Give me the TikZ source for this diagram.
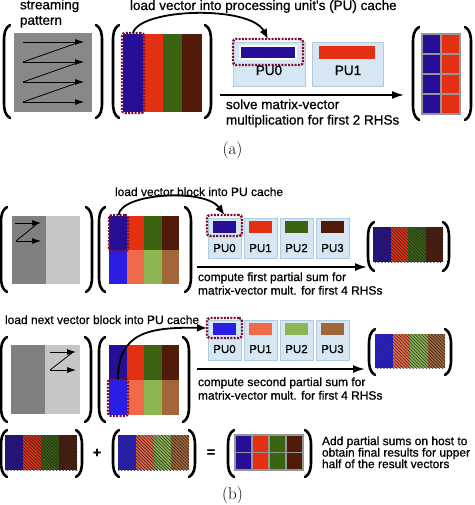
\documentclass[tikz,border=0pt]{standalone}
\usepackage{fontspec}
\newfontfamily\arialf[FakeBold=0.7]{Liberation Sans}
\usetikzlibrary{arrows.meta,patterns.meta}
\definecolor{cnavy}{RGB}{38,14,150}
\definecolor{cred}{RGB}{228,48,18}
\definecolor{cgrn}{RGB}{58,100,18}
\definecolor{cbrn}{RGB}{82,26,8}
\definecolor{cbblue}{RGB}{42,30,228}
\definecolor{csalm}{RGB}{240,105,72}
\definecolor{clgrn}{RGB}{140,182,82}
\definecolor{clbrn}{RGB}{162,102,56}
\definecolor{cgreyA}{RGB}{136,136,136}
\definecolor{cgreyD}{RGB}{128,128,128}
\definecolor{cgreyL}{RGB}{198,198,198}
\definecolor{cpufill}{RGB}{214,231,243}
\definecolor{cpuline}{RGB}{178,203,222}
\definecolor{chl}{RGB}{122,16,48}
\definecolor{cgrid}{RGB}{150,150,150}
\tikzset{
  hl/.style={draw=chl, line width=2.4pt, dash pattern=on 2pt off 1.3pt, rounded corners=3pt},
  pubox/.style={fill=cpufill, draw=cpuline, line width=0.8pt},
  brk/.style={line width=2.6pt, line cap=round},
  conn/.style={line width=1.8pt, -{Latex[length=10pt,width=8pt]}},
  bigarrow/.style={line width=1.8pt, -{Latex[length=12pt,width=8pt]}},
  zig/.style={line width=0.8pt, -{Latex[length=9pt,width=6pt]}},
  zigl/.style={line width=0.8pt},
  hatch/.style={pattern={Lines[angle=-45,distance=2.3pt,line width=0.6pt]}, pattern color=black!85},
  gridl/.style={draw=cgrid, line width=1.2pt},
  ta/.style={font=\arialf\fontsize{13.5}{15.5}\selectfont, inner sep=0pt, outer sep=0pt},
  tb/.style={font=\arialf\fontsize{12}{13.5}\selectfont, inner sep=0pt, outer sep=0pt},
  tc/.style={font=\arialf\fontsize{12}{11.5}\selectfont, inner sep=0pt, outer sep=0pt},
  tpu/.style={font=\arialf\fontsize{11.5}{12}\selectfont, inner sep=0pt, outer sep=0pt},
  captext/.style={font=\fontsize{17}{17}\selectfont, inner sep=0pt}
}
\newcommand\mybox[6]{\node[inner sep=0pt, outer sep=0pt, minimum width={(#4)-(#2)}, minimum height={(#5)-(#3)}, #6] (#1) at ({((#2)+(#4))/2},{((#3)+(#5))/2}) {};}
\newcommand\lbrk[3]{\draw[brk] ({#1+6},#2) .. controls ({#1+1},{#2+3}) and (#1,{#2+8}) .. (#1,{#2+16}) -- (#1,{#3-16}) .. controls (#1,{#3-8}) and ({#1+1},{#3-3}) .. ({#1+6},#3);}
\newcommand\rbrk[3]{\draw[brk] ({#1-6},#2) .. controls ({#1-1},{#2+3}) and (#1,{#2+8}) .. (#1,{#2+16}) -- (#1,{#3-16}) .. controls (#1,{#3-8}) and ({#1-1},{#3-3}) .. ({#1-6},#3);}
\newcommand\fourcols[8]{%
  \pgfmathsetmacro\mycw{((#3)-(#1))/4}%
  \fill[#5] (#1,#2) rectangle ({#1+\mycw},#4);
  \fill[#6] ({#1+\mycw},#2) rectangle ({#1+2*\mycw},#4);
  \fill[#7] ({#1+2*\mycw},#2) rectangle ({#1+3*\mycw},#4);
  \fill[#8] ({#1+3*\mycw},#2) rectangle (#3,#4);}
\begin{document}
\begin{tikzpicture}[x=1pt,y=-1pt]
\useasboundingbox (0,0) rectangle (474,505);
\fill[white] (0,0) rectangle (474,505);

%% ---------------- (a) ----------------
\node[ta, anchor=north west, align=left] (tStream) at (20,-0.5) {streaming\\pattern};
\node[ta, anchor=base west] (tLoadA) at (130,10) {load vector into processing unit's (PU) cache};

\lbrk{4}{25}{118}
\rbrk{102}{25}{118}
\fill[cgreyA] (14,33) rectangle (92,112);
\foreach \yy in {42,62,82,102} {\draw[zig] (23,\yy) -- (84,\yy);}
\foreach \yy in {42,62,82} {\draw[zigl] (77,{\yy+1}) -- (23,{\yy+20});}

\lbrk{113}{25}{118}
\rbrk{211}{25}{118}
\fourcols{123}{34}{202}{112}{cnavy}{cred}{cgrn}{cbrn}
\mybox{hlA}{122}{33}{144}{113}{hl}

\mybox{puA0}{233}{42}{305}{86}{pubox}
\mybox{puA1}{312}{42}{383}{86}{pubox}
\mybox{barA0}{240}{46}{296}{59}{fill=cnavy, draw=white, line width=1.2pt}
\mybox{barA1}{319}{46}{375}{59}{fill=cred}
\mybox{hlPA}{233}{39}{303}{65}{hl}
\node[ta, anchor=base] (lA0) at (269,75) {PU0};
\node[ta, anchor=base] (lA1) at (348,75) {PU1};

\draw[conn] (hlA.north) .. controls (140,8) and (250,5) .. (hlPA.north);

\coordinate (aS) at (220,95);
\coordinate (aE) at (404,95);
\draw[bigarrow] (aS) -- (aE);
\node[ta, anchor=north west, align=left] (tSolve) at (226,99.3) {solve matrix-vector\\multiplication for first 2 RHSs};

\lbrk{413}{27}{120}
\rbrk{471}{27}{120}
\fill[cnavy] (422,34) rectangle (441,114);
\fill[cred] (441,34) rectangle (460,114);
\draw[gridl] (422,34) rectangle (460,114);
\draw[gridl] (441,34) -- (441,114);
\foreach \yy in {54,74,94} {\draw[gridl] (422,\yy) -- (460,\yy);}

\node[captext] (capA) at (232.5,150) {(a)};

%% ---------------- (b) row 1 ----------------
\node[tb, anchor=base west] (tLoadB1) at (115,196) {load vector block into PU cache};
\lbrk{1}{207}{292}
\rbrk{92}{207}{292}
\fill[cgreyD] (12,216) rectangle (46,284);
\fill[cgreyL] (46,216) rectangle (80,284);
\draw[zig] (15,223) -- (41,223);
\draw[zigl] (37,224) -- (16,241);
\draw[zig] (16,241) -- (41,241);

\lbrk{99}{207}{292}
\rbrk{191}{207}{292}
\fourcols{109}{216}{179}{250}{cnavy}{cred}{cgrn}{cbrn}
\fourcols{109}{250}{179}{284}{cbblue}{csalm}{clgrn}{clbrn}
\mybox{hlB1}{109}{215}{128}{251}{hl}

\mybox{puB10}{208}{218}{241}{258}{pubox}
\mybox{puB11}{244}{218}{277}{258}{pubox}
\mybox{puB12}{280}{218}{313}{258}{pubox}
\mybox{puB13}{316}{218}{349}{258}{pubox}
\mybox{barB10}{213}{221}{236}{233}{fill=cnavy}
\mybox{barB11}{249}{221}{272}{233}{fill=cred}
\mybox{barB12}{285}{221}{308}{233}{fill=cgrn}
\mybox{barB13}{321}{221}{344}{233}{fill=cbrn}
\mybox{hlPB1}{207}{215}{242}{236}{hl}
\node[tpu, anchor=base] (lB10) at (224.5,252) {PU0};
\node[tpu, anchor=base] (lB11) at (260.5,252) {PU1};
\node[tpu, anchor=base] (lB12) at (296.5,252) {PU2};
\node[tpu, anchor=base] (lB13) at (332.5,252) {PU3};

\draw[conn] (hlB1.north) .. controls (121,193) and (205,188) .. (hlPB1.north);

\coordinate (b1S) at (197,267);
\coordinate (b1E) at (367,267);
\draw[bigarrow] (b1S) -- (b1E);
\node[tb, anchor=north west, align=left] (tComp1) at (198,272.4) {compute first partial sum for\\matrix-vector mult. for first 4 RHSs};

\lbrk{368}{222}{271}
\rbrk{449}{222}{271}
\fourcols{373}{227}{443}{262}{cnavy}{cred}{cgrn}{cbrn}
\path[hatch] (373,227) rectangle (443,262);

%% ---------------- (b) row 2 ----------------
\node[tb, anchor=base west] (tLoadB2) at (5,324) {load next vector block into PU cache};
\lbrk{1}{337}{422}
\rbrk{91}{337}{422}
\fill[cgreyD] (11,345) rectangle (45,414);
\fill[cgreyL] (45,345) rectangle (80,414);
\draw[zig] (50,352) -- (76,352);
\draw[zigl] (72,353) -- (50,370);
\draw[zig] (50,370) -- (76,370);

\lbrk{99}{337}{422}
\rbrk{189}{337}{422}
\fourcols{109}{345}{179}{380}{cnavy}{cred}{cgrn}{cbrn}
\fourcols{109}{380}{179}{415}{cbblue}{csalm}{clgrn}{clbrn}
\mybox{hlB2}{108}{379}{128}{416}{hl}

\mybox{puB20}{208}{320}{241}{360}{pubox}
\mybox{puB21}{244}{320}{277}{360}{pubox}
\mybox{puB22}{280}{320}{313}{360}{pubox}
\mybox{puB23}{316}{320}{349}{360}{pubox}
\mybox{barB20}{213}{323}{236}{335}{fill=cbblue}
\mybox{barB21}{249}{323}{272}{335}{fill=csalm}
\mybox{barB22}{285}{323}{308}{335}{fill=clgrn}
\mybox{barB23}{321}{323}{344}{335}{fill=clbrn}
\mybox{hlPB2}{207}{318}{242}{338}{hl}
\node[tpu, anchor=base] (lB20) at (224.5,353) {PU0};
\node[tpu, anchor=base] (lB21) at (260.5,353) {PU1};
\node[tpu, anchor=base] (lB22) at (296.5,353) {PU2};
\node[tpu, anchor=base] (lB23) at (332.5,353) {PU3};

\draw[conn] (hlB2.north) .. controls (118,332) and (150,327) .. (hlPB2.west);

\coordinate (b2S) at (197,369);
\coordinate (b2E) at (365,369);
\draw[bigarrow] (b2S) -- (b2E);
\node[tb, anchor=north west, align=left] (tComp2) at (198,377.4) {compute second partial sum for\\matrix-vector mult. for first 4 RHSs};

\lbrk{369}{329}{375}
\rbrk{451}{329}{375}
\fourcols{375}{334}{445}{368}{cbblue}{csalm}{clgrn}{clbrn}
\path[hatch] (375,334) rectangle (445,368);

%% ---------------- (b) row 3 ----------------
\lbrk{1}{430}{477}
\rbrk{82}{430}{477}
\fourcols{5}{435}{77}{470}{cnavy}{cred}{cgrn}{cbrn}
\path[hatch] (5,435) rectangle (77,470);
\node[font=\arialf\bfseries\fontsize{14}{14}\selectfont, inner sep=0pt] (plus) at (97,453) {+};

\lbrk{113}{430}{477}
\rbrk{195}{430}{477}
\fourcols{118}{435}{189}{470}{cbblue}{csalm}{clgrn}{clbrn}
\path[hatch] (118,435) rectangle (189,470);
\node[font=\arialf\bfseries\fontsize{14}{14}\selectfont, inner sep=0pt] (eq) at (211,453) {=};

\lbrk{228}{430}{477}
\rbrk{311}{430}{477}
\fourcols{235}{435}{303}{452.5}{cnavy}{cred}{cgrn}{cbrn}
\fourcols{235}{452.5}{303}{470}{cnavy}{cred}{cgrn}{cbrn}
\draw[gridl] (235,435) rectangle (303,470);
\draw[gridl] (235,452.5) -- (303,452.5);
\foreach \xx in {252,269,286} {\draw[gridl] (\xx,435) -- (\xx,470);}

\node[tc, anchor=north west, align=left] (tAdd) at (322,436.4) {Add partial sums on host to\\obtain final results for upper\\half of the result vectors};

\node[captext] (capB) at (232.5,495) {(b)};
\end{tikzpicture}
\end{document}
